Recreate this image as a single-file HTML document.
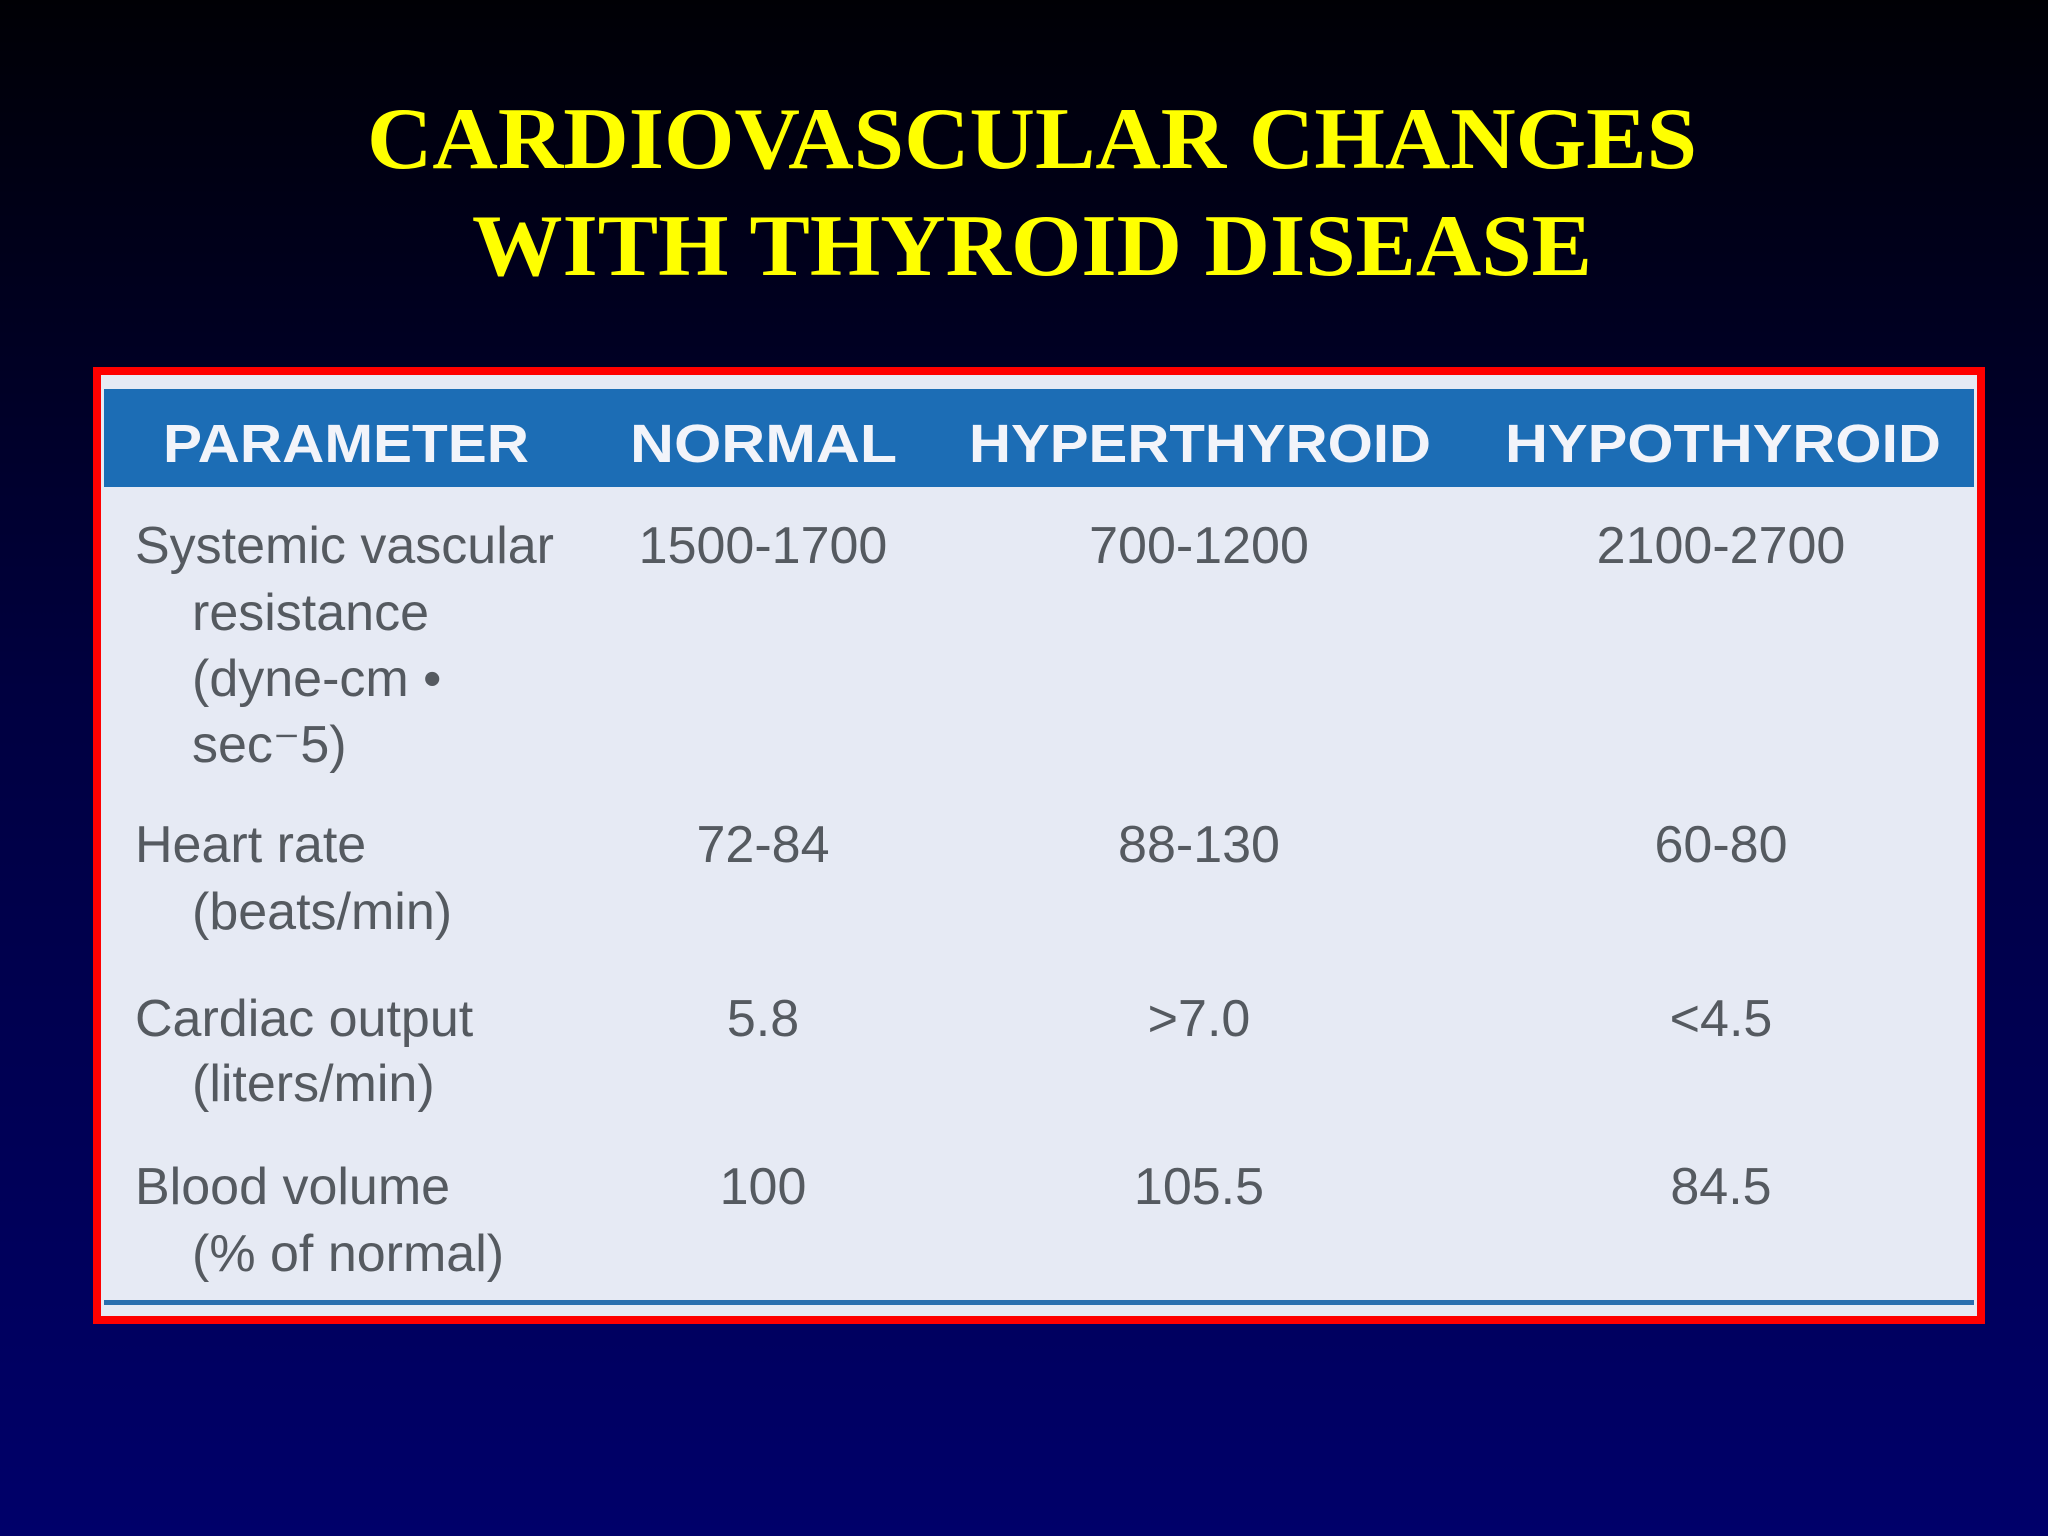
<!DOCTYPE html>
<html><head><meta charset="utf-8"><style>
html,body{margin:0;padding:0;width:2048px;height:1536px;overflow:hidden;}
</style></head><body>
<svg width="2048" height="1536" viewBox="0 0 2048 1536" xmlns="http://www.w3.org/2000/svg">
<defs><linearGradient id="bg" x1="0" y1="0" x2="0" y2="1"><stop offset="0" stop-color="#000005"/><stop offset="0.45" stop-color="#000040"/><stop offset="1" stop-color="#00006a"/></linearGradient></defs>
<rect width="2048" height="1536" fill="url(#bg)"/>
<g font-family="'Liberation Serif', serif" font-weight="bold" font-size="88" fill="#ffff00" text-anchor="middle">
<text x="1032" y="168" textLength="1330" lengthAdjust="spacingAndGlyphs">CARDIOVASCULAR CHANGES</text>
<text x="1032" y="275" textLength="1120" lengthAdjust="spacingAndGlyphs">WITH THYROID DISEASE</text>
</g>
<rect x="97" y="371" width="1884" height="949" fill="#e6eaf4" stroke="#ff0000" stroke-width="8"/>
<rect x="104" y="389" width="1870" height="98" fill="#1c6db5"/>
<rect x="104" y="1300" width="1870" height="5" fill="#2a6fae"/>
<g font-family="'Liberation Sans', sans-serif" font-weight="bold" font-size="54" fill="#f2f4fa">
<text x="163" y="462" textLength="366" lengthAdjust="spacingAndGlyphs">PARAMETER</text>
<text x="630" y="462" textLength="267" lengthAdjust="spacingAndGlyphs">NORMAL</text>
<text x="969" y="462" textLength="462" lengthAdjust="spacingAndGlyphs">HYPERTHYROID</text>
<text x="1505" y="462" textLength="436" lengthAdjust="spacingAndGlyphs">HYPOTHYROID</text>
</g>
<g font-family="'Liberation Sans', sans-serif" font-size="52" fill="#555a60">
<g>
<text x="135" y="563">Systemic vascular</text>
<text x="192" y="630">resistance</text>
<text x="192" y="696">(dyne-cm •</text>
<text x="192" y="762">sec⁻5)</text>
<text x="763" y="563" text-anchor="middle">1500-1700</text>
<text x="1199" y="563" text-anchor="middle">700-1200</text>
<text x="1721" y="563" text-anchor="middle">2100-2700</text>
</g>
<g>
<text x="135" y="862">Heart rate</text>
<text x="192" y="929">(beats/min)</text>
<text x="763" y="862" text-anchor="middle">72-84</text>
<text x="1199" y="862" text-anchor="middle">88-130</text>
<text x="1721" y="862" text-anchor="middle">60-80</text>
</g>
<g>
<text x="135" y="1036">Cardiac output</text>
<text x="192" y="1101">(liters/min)</text>
<text x="763" y="1036" text-anchor="middle">5.8</text>
<text x="1199" y="1036" text-anchor="middle">&gt;7.0</text>
<text x="1721" y="1036" text-anchor="middle">&lt;4.5</text>
</g>
<g>
<text x="135" y="1204">Blood volume</text>
<text x="192" y="1271">(% of normal)</text>
<text x="763" y="1204" text-anchor="middle">100</text>
<text x="1199" y="1204" text-anchor="middle">105.5</text>
<text x="1721" y="1204" text-anchor="middle">84.5</text>
</g>
</g>
</svg>
</body></html>
